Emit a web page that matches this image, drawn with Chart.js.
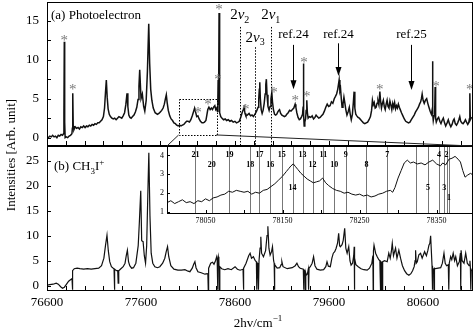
<!DOCTYPE html>
<html>
<head>
<meta charset="utf-8">
<script src="https://cdn.jsdelivr.net/npm/chart.js@4.4.1/dist/chart.umd.min.js"></script>
<style>
  html, body { margin: 0; padding: 0; background: #fff; }
  #wrap { position: relative; width: 474px; height: 334px; overflow: hidden; font-family: 'Liberation Serif', 'Times New Roman', serif; color: #000; }
  #wrap canvas { position: absolute; }
  #topChart { left: 0; top: 0; }
  #bottomChart { left: 0; top: 140px; }
  #insetChart { left: 147px; top: 145px; }
  #overlay { left: 0; top: 0; pointer-events: none; }
  .lbl { position: absolute; font-size: 13px; line-height: 13px; white-space: nowrap; }
  .lbl sub, .lbl sup { font-size: 9px; line-height: 0; }
  #ytitle { left: 10px; top: 155px; transform: translate(-50%, -50%) rotate(-90deg); }
  #xtitle { left: 258px; top: 322px; transform: translate(-50%, -50%); }
</style>
</head>
<body>
<div id="wrap">
  <canvas id="topChart" width="474" height="150"></canvas>
  <canvas id="bottomChart" width="474" height="180"></canvas>
  <canvas id="insetChart" width="327" height="85"></canvas>
  <canvas id="overlay" width="474" height="334"></canvas>
  <div class="lbl" style="left:51px; top:8px;">(a) Photoelectron</div>
  <div class="lbl" style="left:54px; top:159px;">(b) CH<sub>3</sub>I<sup>+</sup></div>
  <div class="lbl" id="ytitle">Intensities [Arb. unit]</div>
  <div class="lbl" id="xtitle">2hv/cm<sup>&minus;1</sup></div>
</div>
<script>
Chart.defaults.font.family = "'Liberation Serif', 'Times New Roman', serif";
Chart.defaults.color = '#000';

// shared x axis, 2hv in cm^-1
const xTicks = [76600, 76800, 77000, 77200, 77400, 77600, 77800, 78000, 78200, 78400, 78600, 78800,
  79000, 79200, 79400, 79600, 79800, 80000, 80200, 80400, 80600, 80800, 81000];
const xLabels = [76600, 77600, 78600, 79600, 80600];
const topYTicks = [0, 2.5, 5, 7.5, 10, 12.5, 15];
const topYLabels = [0, 5, 10, 15];
const bottomYTicks = [0, 5, 10, 15, 20, 25];

// (a) photoelectron spectrum
const topWn = [76600, 76615, 76630, 76645, 76660, 76675, 76690, 76705, 76720, 76735, 76750, 76765, 76775, 76780, 76784, 76788, 76793,
  76805, 76820, 76835, 76850, 76865, 76870, 76874, 76879, 76886, 76900, 76915, 76930, 76945, 76960, 76975, 76990, 77005, 77020,
  77035, 77050, 77065, 77080, 77095, 77110, 77125, 77140, 77155, 77170, 77185, 77200, 77212, 77222, 77231, 77240, 77250, 77262,
  77275, 77290, 77305, 77320, 77335, 77350, 77365, 77380, 77395, 77410, 77425, 77438, 77451, 77460, 77470, 77482, 77495, 77510,
  77525, 77540, 77555, 77568, 77578, 77586, 77600, 77614, 77628, 77640, 77655, 77668, 77682, 77692, 77703, 77715, 77730, 77750,
  77775, 77790, 77805, 77820, 77835, 77848, 77858, 77869, 77878, 77890, 77905, 77920, 77935, 77950, 77965, 77980, 77995, 78010,
  78025, 78040, 78055, 78070, 78085, 78100, 78115, 78130, 78145, 78160, 78170, 78180, 78192, 78205, 78218, 78232, 78248, 78262,
  78275, 78290, 78300, 78310, 78322, 78335, 78348, 78360, 78372, 78385, 78395, 78405, 78412, 78417, 78420, 78424, 78427, 78430,
  78434, 78438, 78448, 78462, 78478, 78495, 78510, 78528, 78545, 78562, 78580, 78598, 78615, 78632, 78645, 78660, 78675, 78688,
  78696, 78706, 78716, 78730, 78749, 78765, 78780, 78795, 78810, 78821, 78832, 78845, 78852, 78858, 78863, 78869, 78878, 78888,
  78898, 78910, 78920, 78927, 78933, 78940, 78950, 78962, 78972, 78982, 78991, 78998, 79008, 79020, 79032, 79043, 79055, 79065,
  79073, 79085, 79098, 79112, 79125, 79138, 79150, 79165, 79180, 79195, 79210, 79225, 79239, 79247, 79257, 79270, 79283, 79295,
  79308, 79318, 79324, 79327, 79331, 79335, 79342, 79350, 79356, 79363, 79369, 79377, 79390, 79405, 79420, 79435, 79450, 79462,
  79475, 79490, 79505, 79520, 79535, 79550, 79565, 79580, 79595, 79610, 79625, 79640, 79655, 79668, 79680, 79692, 79707, 79715,
  79722, 79730, 79738, 79748, 79758, 79766, 79778, 79790, 79802, 79815, 79825, 79836, 79848, 79858, 79866, 79874, 79884, 79895,
  79908, 79922, 79936, 79950, 79965, 79980, 79995, 80010, 80025, 80040, 80052, 80061, 80070, 80080, 80090, 80100, 80110, 80120,
  80130, 80140, 80147, 80157, 80167, 80177, 80187, 80197, 80207, 80217, 80227, 80237, 80247, 80257, 80267, 80277, 80287, 80297,
  80307, 80317, 80327, 80337, 80347, 80357, 80370, 80385, 80400, 80415, 80430, 80445, 80460, 80475, 80490, 80505, 80520, 80535,
  80550, 80562, 80574, 80582, 80590, 80600, 80612, 80625, 80638, 80650, 80662, 80675, 80688, 80695, 80700, 80704, 80708, 80716,
  80723, 80728, 80733, 80740, 80752, 80765, 80778, 80790, 80802, 80815, 80828, 80840, 80855, 80868, 80880, 80895, 80908, 80920,
  80930, 80942, 80955, 80968, 80980, 80990, 81000, 81012, 81025, 81038, 81050, 81062, 81075, 81085, 81092, 81097, 81102, 81110, 81120];
const topInt = [0.1, 0.0, 0.2, 0.1, 0.3, 0.1, 0.2, 0.0, 0.3, 0.2, 0.4, 0.3, 0.5, 3.0, 12.3, 2.0, 0.0,
  0.1, 0.0, 0.2, 0.3, 0.5, 1.2, 5.7, 1.5, 1.0, 1.4, 1.2, 1.3, 1.1, 1.4, 1.3, 1.5, 1.3, 1.5,
  1.4, 1.6, 1.5, 1.7, 1.6, 1.8, 1.7, 1.9, 1.9, 2.1, 2.3, 2.7, 3.8, 5.8, 7.4, 5.2, 3.7, 3.0,
  2.7, 2.5, 2.4, 2.5, 2.3, 2.5, 2.7, 2.6, 2.5, 2.8, 3.2, 4.2, 5.7, 4.0, 2.9, 2.6, 2.5, 2.7,
  2.9, 3.3, 3.9, 4.9, 6.6, 8.7, 5.0, 5.6, 4.0, 3.4, 4.8, 8.5, 14.6, 9.5, 6.2, 4.8, 3.8, 3.2,
  3.0, 3.1, 3.3, 3.5, 3.8, 4.3, 4.9, 5.5, 4.5, 3.5, 2.8, 2.4, 2.2, 1.9, 1.8, 1.6, 1.5, 1.6,
  1.5, 1.6, 1.7, 1.9, 2.1, 2.1, 2.0, 2.3, 2.8, 3.4, 3.8, 3.3, 2.7, 2.8, 2.4, 2.1, 1.9, 1.9,
  2.0, 2.2, 2.9, 3.6, 3.9, 3.6, 3.8, 3.6, 3.9, 4.1, 3.6, 3.8, 3.4, 5.0, 7.4, 4.2, 6.0, 16.0,
  6.0, 3.2, 2.7, 2.5, 2.3, 2.4, 2.2, 2.3, 2.1, 2.2, 2.0, 2.1, 1.9, 2.0, 2.1, 2.6, 3.2, 3.6,
  3.9, 3.1, 2.8, 2.9, 3.1, 2.8, 2.9, 2.7, 3.0, 3.2, 3.5, 3.9, 5.0, 6.2, 7.1, 5.0, 3.6, 3.1,
  3.5, 4.4, 5.6, 6.8, 7.5, 5.5, 4.0, 3.5, 4.0, 5.0, 5.8, 4.6, 3.6, 3.0, 2.9, 3.0, 3.3, 3.5,
  3.6, 3.1, 2.9, 2.8, 2.7, 2.8, 3.0, 3.2, 3.5, 3.4, 3.6, 3.8, 4.3, 3.9, 3.2, 2.6, 2.3, 2.4,
  2.7, 3.0, 4.0, 9.5, 3.0, 1.5, 2.0, 2.4, 3.5, 4.8, 3.2, 2.5, 2.7, 2.6, 2.8, 2.4, 2.6, 2.9,
  2.7, 2.5, 2.6, 2.8, 3.0, 3.4, 3.9, 4.3, 4.0, 4.1, 4.6, 4.4, 5.0, 5.3, 5.6, 6.2, 7.4, 6.0,
  6.3, 5.0, 3.9, 4.3, 5.2, 4.6, 3.6, 2.9, 3.3, 3.9, 3.0, 2.3, 3.0, 4.5, 5.9, 3.8, 3.0, 2.8,
  2.6, 2.5, 2.3, 2.1, 1.9, 1.8, 1.9, 2.0, 2.3, 2.7, 3.5, 4.8, 4.2, 4.5, 3.8, 3.9, 4.4, 4.7,
  4.2, 5.9, 4.8, 3.8, 4.4, 4.8, 4.0, 3.6, 4.3, 4.8, 4.0, 3.8, 4.7, 4.2, 3.6, 4.4, 3.9, 4.5,
  3.7, 4.1, 3.8, 4.3, 3.9, 3.6, 3.2, 2.8, 2.4, 2.1, 2.0, 1.9, 2.0, 2.3, 2.6, 2.9, 3.3, 3.6,
  3.9, 4.3, 4.6, 5.0, 5.6, 4.8, 4.4, 4.8, 5.0, 4.4, 3.9, 3.4, 3.0, 3.5, 9.8, 3.0, 2.2, 2.8,
  3.2, 6.5, 2.5, 2.0, 2.4, 2.6, 2.1, 1.8, 2.2, 2.5, 1.9, 1.5, 1.9, 2.3, 1.8, 1.4, 1.7, 2.2,
  2.4, 1.8, 1.6, 1.9, 2.3, 2.7, 2.1, 1.9, 1.8, 2.0, 2.3, 2.0, 1.7, 1.9, 2.4, 5.7, 2.3, 2.5, 2.6];

// (b) CH3I+ ion yield
const botWn = [76600, 76630, 76665, 76698, 76720, 76745, 76765, 76785, 76808, 76830, 76850, 76866, 76870, 76874, 76890, 76920,
  76950, 76990, 77030, 77070, 77110, 77150, 77180, 77205, 77222, 77238, 77252, 77267, 77285, 77305, 77313, 77317, 77321, 77340,
  77352, 77357, 77363, 77380, 77410, 77430, 77443, 77455, 77467, 77480, 77500, 77520, 77545, 77570, 77583, 77597, 77607, 77622,
  77635, 77648, 77660, 77672, 77683, 77695, 77708, 77725, 77747, 77775, 77800, 77830, 77853, 77868, 77882, 77895, 77917, 77950,
  77992, 78030, 78067, 78100, 78120, 78145, 78160, 78173, 78185, 78205, 78240, 78280, 78305, 78311, 78315, 78319, 78341, 78360,
  78376, 78392, 78405, 78410, 78414, 78418, 78422, 78428, 78433, 78438, 78458, 78490, 78525, 78560, 78600, 78625, 78653, 78685,
  78689, 78693, 78717, 78745, 78760, 78775, 78795, 78815, 78827, 78831, 78838, 78845, 78849, 78855, 78866, 78874, 78882, 78902,
  78925, 78940, 78949, 78960, 78973, 78988, 78998, 79010, 79016, 79019, 79023, 79048, 79075, 79090, 79098, 79110, 79155, 79208,
  79240, 79258, 79275, 79293, 79326, 79329, 79333, 79343, 79347, 79352, 79357, 79370, 79378, 79382, 79387, 79400, 79420, 79435,
  79450, 79471, 79507, 79542, 79565, 79578, 79592, 79613, 79630, 79645, 79660, 79675, 79690, 79702, 79712, 79720, 79738, 79750,
  79766, 79778, 79792, 79809, 79822, 79834, 79850, 79862, 79867, 79869, 79873, 79885, 79910, 79940, 79970, 80005, 80030, 80055,
  80066, 80069, 80072, 80078, 80095, 80112, 80129, 80140, 80147, 80152, 80160, 80165, 80170, 80190, 80218, 80235, 80250, 80262,
  80272, 80285, 80307, 80322, 80342, 80360, 80380, 80403, 80425, 80449, 80470, 80488, 80505, 80515, 80520, 80527, 80538, 80555,
  80573, 80590, 80616, 80635, 80650, 80662, 80672, 80680, 80690, 80695, 80698, 80702, 80712, 80716, 80721, 80733, 80760, 80787,
  80805, 80822, 80835, 80850, 80868, 80873, 80878, 80893, 80905, 80920, 80935, 80947, 80965, 80985, 80997, 81000, 81004, 81015,
  81035, 81053, 81070, 81089, 81098, 81103, 81107, 81112, 81120];
const botInt = [0.1, 0.2, 0.3, 0.5, 0.3, -0.2, -0.5, -0.3, 0.3, 0.9, 1.2, 1.4, -0.8, 3.0, 3.4, 3.5,
  3.4, 3.3, 3.4, 3.3, 3.4, 3.5, 4.0, 5.5, 8.0, 10.1, 7.0, 4.8, 3.8, 3.5, 3.4, -0.8, 3.3, 3.0,
  3.0, 0.5, 3.0, 3.3, 3.8, 4.5, 6.0, 7.1, 4.8, 4.0, 3.5, 3.6, 4.5, 8.0, 13.0, 19.0, 9.0, 8.8,
  6.0, 4.5, 8.0, 18.0, 26.6, 14.0, 6.5, 4.5, 3.8, 3.6, 3.8, 4.5, 5.5, 6.8, 7.8, 5.8, 4.0, 3.3,
  3.1, 3.1, 3.2, 2.9, 2.8, 3.5, 4.3, 4.8, 3.6, 2.8, 2.6, 2.3, 2.4, 2.3, -0.8, 3.5, 4.5, 4.7,
  4.3, 5.0, 5.8, 5.2, -0.8, 4.8, 5.8, 5.0, -0.8, 3.8, 3.4, 3.2, 3.4, 3.2, 3.8, 3.3, 3.1, 3.3,
  -0.8, 3.5, 4.5, 6.0, 6.5, 5.5, 5.8, 5.0, 4.8, -0.8, 4.5, 4.4, -0.8, 5.0, 7.5, 9.8, 6.5, 5.8,
  7.0, 10.0, 11.9, 7.5, 6.1, 6.8, 7.8, 5.0, 4.5, -0.8, 4.2, 3.5, 3.6, 4.2, 4.8, 3.8, 3.4, 3.6,
  4.0, 4.5, 3.8, 3.5, 3.3, -0.8, 3.2, 3.0, -0.8, 2.5, 2.1, 2.4, 3.2, -0.8, 3.5, 3.8, 4.5, 5.8,
  4.0, 3.3, 3.1, 3.2, 3.8, 4.8, 3.9, 3.8, 5.5, 6.5, 6.8, 7.5, 8.5, 10.5, 8.0, 7.8, 8.2, 9.0,
  11.5, 7.5, 6.5, 7.8, 5.0, 4.1, 4.5, 6.0, 7.8, -0.8, 5.5, 4.2, 3.8, 3.4, 3.2, 3.1, 3.5, 4.5,
  6.0, -0.8, 7.0, 8.1, 6.5, 5.8, 5.2, 5.0, -0.8, 4.8, 4.6, -0.8, 4.8, 5.0, 4.8, 6.5, 5.5, 6.8,
  8.5, 6.0, 7.5, 5.5, 7.1, 5.5, 4.0, 3.0, 2.4, 2.1, 2.4, 3.0, 3.8, 5.0, 7.1, 4.5, 4.8, 6.2,
  6.5, 5.5, 6.8, 6.0, 7.0, 8.1, 8.5, 10.0, 6.0, 4.0, -0.8, 3.5, 3.3, -0.8, 3.5, 3.4, 3.5, 3.6,
  4.5, 6.5, 4.5, 4.0, 4.2, -0.8, 4.5, 5.8, 5.2, 6.5, 5.0, 5.8, 4.0, 4.8, 6.5, -0.8, 7.1, 5.0,
  4.5, 6.5, 4.5, 4.0, 5.0, 3.5, -0.8, 3.0, 3.2];

// inset: enlarged 78000-78400 region of (a)
const insetWn = [78000, 78005, 78010, 78015, 78020, 78025, 78030, 78035, 78040, 78045, 78050, 78055, 78060, 78065, 78070,
  78075, 78080, 78085, 78090, 78095, 78100, 78105, 78110, 78115, 78120, 78125, 78130, 78135, 78140, 78145, 78150, 78155,
  78158, 78161, 78164, 78167, 78170, 78174, 78178, 78182, 78186, 78190, 78194, 78198, 78202, 78206, 78210, 78215, 78220,
  78225, 78230, 78235, 78240, 78245, 78250, 78255, 78260, 78265, 78270, 78275, 78280, 78285, 78290, 78293, 78296, 78300,
  78304, 78308, 78312, 78316, 78320, 78325, 78330, 78335, 78340, 78345, 78350, 78355, 78358, 78362, 78366, 78370, 78374,
  78378, 78381, 78384, 78387, 78390, 78394, 78398];
const insetInt = [1.5, 1.6, 1.45, 1.55, 1.65, 1.5, 1.55, 1.45, 1.6, 1.55, 1.7, 1.6, 1.75, 1.8, 1.9,
  1.95, 2.1, 2.05, 2.15, 2.1, 2.05, 2.1, 1.95, 2.05, 2.0, 2.15, 2.2, 2.35, 2.5, 2.7, 2.9, 3.15,
  3.3, 3.45, 3.55, 3.4, 3.25, 3.05, 2.9, 2.75, 2.65, 2.55, 2.6, 2.65, 2.8, 2.55, 2.4, 2.25, 2.15,
  2.1, 2.0, 2.05, 1.95, 1.9, 1.95, 1.85, 1.9, 1.8, 1.85, 1.95, 2.0, 2.1, 2.15, 2.05, 2.3, 2.8,
  3.2, 3.6, 3.75, 3.6, 3.65, 3.55, 3.6, 3.5, 3.65, 3.75, 3.55, 3.45, 3.6, 3.5, 3.8, 3.85, 3.95,
  3.8, 3.65, 3.2, 2.85, 2.95, 3.05, 2.95];
const insetXTicks = [78050, 78100, 78150, 78200, 78250, 78300, 78350];
const insetXLabels = [78050, 78150, 78250, 78350];
const insetYTicks = [1, 2, 3, 4];

// numbered assignment lines in the inset
const lineNames = ['21', '20', '19', '18', '17', '16', '15', '14', '13', '12', '11', '10', '9', '8', '7', '', '5', '4', '3', '2', '1'];
const lineWn = [78037, 78058, 78081, 78108, 78120, 78134, 78149, 78163, 78176, 78189, 78203, 78217, 78232, 78259, 78286,
  78323, 78339, 78353, 78360, 78363, 78366];
const lineNameY = [4.05, 3.5, 4.05, 3.5, 4.05, 3.5, 4.05, 2.28, 4.05, 3.5, 4.05, 3.5, 4.05, 3.5, 4.05, 4.05, 2.28, 4.05, 2.28, 4.05, 1.75];

// annotations on (a)
const starWn = [76784, 76873, 78207, 78313, 78430, 78419, 78714, 79015, 79239, 79334, 79363, 80140, 80736, 81097];
const starInt = [12.9, 6.5, 3.55, 4.6, 16.8, 7.9, 4.0, 6.2, 5.2, 10.0, 5.7, 6.5, 7.0, 6.5];
const modeSub = ['2', '3', '1'];
const modeWn = [78650, 78813, 78980];
const modeTop = [14.2, 11.6, 14.2];
const modeLabelY = [15.7, 12.8, 15.7];
const refNames = ['ref.24', 'ref.24', 'ref.25'];
const refWn = [79217, 79696, 80470];
const refFrom = [11.9, 12.1, 11.9];
const refTo = [6.2, 7.9, 6.1];
const refLabelY = [13.2, 13.2, 13.2];
const boxWn = [78000, 78400];
const boxInt = [0.35, 4.96];

const SERIF = "'Liberation Serif', 'Times New Roman', serif";
const pts = (xs, ys) => xs.map((x, i) => ({ x: x, y: ys[i] }));

// fixed axis sizes, and no extra room reserved for edge labels
const fixX = (h) => (s) => { s.height = h; s.paddingLeft = 0; s.paddingRight = 0; };
const fixY = (w) => (s) => { s.width = w; s.paddingTop = 0; s.paddingBottom = 0; };
const noGrid = { display: false, drawTicks: false };

// frame plus tick marks pointing into the plot
const innerTicks = {
  id: 'innerTicks',
  afterDraw(chart, args, opts) {
    const { ctx, chartArea: a, scales: { x, y } } = chart;
    ctx.save();
    ctx.strokeStyle = '#000';
    ctx.lineWidth = 1;
    ctx.beginPath();
    x.ticks.forEach((t) => {
      const px = Math.round(x.getPixelForValue(t.value)) + 0.5;
      ctx.moveTo(px, a.bottom);
      ctx.lineTo(px, a.bottom - opts.len);
    });
    y.ticks.forEach((t) => {
      const py = Math.round(y.getPixelForValue(t.value)) + 0.5;
      ctx.moveTo(a.left, py);
      ctx.lineTo(a.left + opts.len, py);
    });
    ctx.stroke();
    ctx.strokeRect(Math.round(a.left) + 0.5, Math.round(a.top) + 0.5, Math.round(a.width), Math.round(a.height));
    ctx.restore();
  },
};

const topNotes = {
  id: 'topNotes',
  afterDatasetsDraw(chart) {
    const { ctx, chartArea: a, scales: { x, y } } = chart;
    ctx.save();
    ctx.strokeStyle = '#000';
    ctx.fillStyle = '#000';
    ctx.lineWidth = 1;

    // dotted box of the enlarged region
    ctx.setLineDash([1.5, 1.5]);
    const bx0 = x.getPixelForValue(boxWn[0]), bx1 = x.getPixelForValue(boxWn[1]);
    const by0 = y.getPixelForValue(boxInt[1]), by1 = y.getPixelForValue(boxInt[0]);
    ctx.strokeRect(Math.round(bx0) + 0.5, Math.round(by0) + 0.5, Math.round(bx1 - bx0), Math.round(by1 - by0));

    // dotted lines for overtones
    modeWn.forEach((w, i) => {
      const px = Math.round(x.getPixelForValue(w)) + 0.5;
      ctx.beginPath();
      ctx.moveTo(px, y.getPixelForValue(modeTop[i]));
      ctx.lineTo(px, a.bottom);
      ctx.stroke();
    });
    ctx.setLineDash([]);

    ctx.textBaseline = 'middle';
    ctx.textAlign = 'left';
    modeWn.forEach((w, i) => {
      const px = x.getPixelForValue(w), py = y.getPixelForValue(modeLabelY[i]);
      ctx.font = '15px ' + SERIF;
      const w1 = ctx.measureText('2').width;
      ctx.font = 'italic 15px ' + SERIF;
      const w2 = ctx.measureText('ν').width;
      ctx.font = '10px ' + SERIF;
      const w3 = ctx.measureText(modeSub[i]).width;
      const left = px - (w1 + w2 + w3) / 2;
      ctx.font = '15px ' + SERIF;
      ctx.fillText('2', left, py);
      ctx.font = 'italic 15px ' + SERIF;
      ctx.fillText('ν', left + w1, py);
      ctx.font = '10px ' + SERIF;
      ctx.fillText(modeSub[i], left + w1 + w2, py + 5);
    });

    // reference arrows
    ctx.font = '13px ' + SERIF;
    ctx.textAlign = 'center';
    refWn.forEach((w, i) => {
      const px = Math.round(x.getPixelForValue(w)) + 0.5;
      const y0 = y.getPixelForValue(refFrom[i]), y1 = y.getPixelForValue(refTo[i]);
      ctx.fillText(refNames[i], px, y.getPixelForValue(refLabelY[i]));
      ctx.beginPath();
      ctx.moveTo(px, y0);
      ctx.lineTo(px, y1 - 6);
      ctx.stroke();
      ctx.beginPath();
      ctx.moveTo(px - 3, y1 - 9);
      ctx.lineTo(px + 3, y1 - 9);
      ctx.lineTo(px, y1);
      ctx.closePath();
      ctx.fill();
    });

    // asterisks
    ctx.fillStyle = '#7a7a7a';
    ctx.font = '15px ' + SERIF;
    ctx.textBaseline = 'alphabetic';
    starWn.forEach((w, i) => {
      ctx.fillText('*', x.getPixelForValue(w), y.getPixelForValue(starInt[i]) + 7.5);
    });
    ctx.restore();
  },
};

const insetNotes = {
  id: 'insetNotes',
  beforeDraw(chart) {
    const { ctx, chartArea: a } = chart;
    ctx.save();
    ctx.fillStyle = '#fff';
    ctx.fillRect(a.left, a.top, a.width, a.height);
    ctx.restore();
  },
  beforeDatasetsDraw(chart) {
    const { ctx, chartArea: a, scales: { x } } = chart;
    ctx.save();
    ctx.strokeStyle = '#777';
    ctx.lineWidth = 1;
    ctx.beginPath();
    lineWn.forEach((w) => {
      const px = Math.round(x.getPixelForValue(w)) + 0.5;
      ctx.moveTo(px, a.top);
      ctx.lineTo(px, a.bottom);
    });
    ctx.stroke();
    ctx.restore();
  },
  afterDatasetsDraw(chart) {
    const { ctx, scales: { x, y } } = chart;
    ctx.save();
    ctx.fillStyle = '#000';
    ctx.font = 'bold 8px ' + SERIF;
    ctx.textAlign = 'center';
    ctx.textBaseline = 'middle';
    lineWn.forEach((w, i) => {
      if (lineNames[i]) ctx.fillText(lineNames[i], x.getPixelForValue(w), y.getPixelForValue(lineNameY[i]));
    });
    ctx.restore();
  },
};

const topChart = new Chart(document.getElementById('topChart'), {
  type: 'line',
  data: {
    datasets: [{ data: pts(topWn, topInt), borderColor: '#111', borderWidth: 1.5, pointRadius: 0, tension: 0 }],
  },
  plugins: [innerTicks, topNotes],
  options: {
    responsive: false,
    animation: false,
    layout: { padding: { top: 2, right: 2, left: 0, bottom: 0 } },
    plugins: { legend: { display: false }, tooltip: { enabled: false }, innerTicks: { len: 4 } },
    scales: {
      x: {
        type: 'linear', min: 76600, max: 81120,
        grid: noGrid, border: { display: false },
        ticks: { display: false },
        afterBuildTicks: (s) => { s.ticks = xTicks.map((v) => ({ value: v })); },
        afterFit: fixX(5),
      },
      y: {
        min: -0.94, max: 17.4,
        grid: noGrid, border: { display: false },
        ticks: { font: { size: 13 }, padding: 8, callback: (v) => (topYLabels.includes(v) ? String(v) : '') },
        afterBuildTicks: (s) => { s.ticks = topYTicks.map((v) => ({ value: v })); },
        afterFit: fixY(47),
      },
    },
  },
});

new Chart(document.getElementById('bottomChart'), {
  type: 'line',
  data: {
    datasets: [{ data: pts(botWn, botInt), borderColor: '#111', borderWidth: 1.2, pointRadius: 0, tension: 0 }],
  },
  plugins: [innerTicks],
  options: {
    responsive: false,
    animation: false,
    layout: { padding: { top: 6, right: 2, left: 0, bottom: 0 } },
    plugins: { legend: { display: false }, tooltip: { enabled: false }, innerTicks: { len: 4 } },
    scales: {
      x: {
        type: 'linear', min: 76600, max: 81120,
        grid: noGrid, border: { display: false },
        ticks: { font: { size: 13 }, padding: 5, autoSkip: false, maxRotation: 0,
          callback: (v) => (xLabels.includes(v) ? String(v) : '') },
        afterBuildTicks: (s) => { s.ticks = xTicks.map((v) => ({ value: v })); },
        afterFit: fixX(30),
      },
      y: {
        min: -0.86, max: 27.94,
        grid: noGrid, border: { display: false },
        ticks: { font: { size: 13 }, padding: 8 },
        afterBuildTicks: (s) => { s.ticks = bottomYTicks.map((v) => ({ value: v })); },
        afterFit: fixY(47),
      },
    },
  },
});

const insetChart = new Chart(document.getElementById('insetChart'), {
  type: 'line',
  data: {
    datasets: [{ data: pts(insetWn, insetInt), borderColor: '#111', borderWidth: 1, pointRadius: 0, tension: 0 }],
  },
  plugins: [insetNotes, innerTicks],
  options: {
    responsive: false,
    animation: false,
    layout: { padding: { top: 1, right: 2, left: 0, bottom: 0 } },
    plugins: { legend: { display: false }, tooltip: { enabled: false }, innerTicks: { len: 3 } },
    scales: {
      x: {
        type: 'linear', min: 78000, max: 78396,
        grid: noGrid, border: { display: false },
        ticks: { font: { size: 8 }, padding: 3, autoSkip: false, maxRotation: 0,
          callback: (v) => (insetXLabels.includes(v) ? String(v) : '') },
        afterBuildTicks: (s) => { s.ticks = insetXTicks.map((v) => ({ value: v })); },
        afterFit: fixX(17),
      },
      y: {
        min: 0.95, max: 4.5,
        grid: noGrid, border: { display: false },
        ticks: { font: { size: 8 }, padding: 3 },
        afterBuildTicks: (s) => { s.ticks = insetYTicks.map((v) => ({ value: v })); },
        afterFit: fixY(20),
      },
    },
  },
});

// lines joining the dotted box in (a) to the inset
const ov = document.getElementById('overlay').getContext('2d');
const tx = topChart.scales.x, ty = topChart.scales.y;
const ia = insetChart.chartArea;
const insetLeft = 147, insetTop = 145;
ov.strokeStyle = '#222';
ov.lineWidth = 1;
ov.beginPath();
ov.moveTo(tx.getPixelForValue(boxWn[0]), ty.getPixelForValue(boxInt[0]));
ov.lineTo(insetLeft + ia.left, insetTop + ia.top);
ov.moveTo(tx.getPixelForValue(boxWn[1]), ty.getPixelForValue(boxInt[0]));
ov.lineTo(insetLeft + ia.right, insetTop + ia.top);
ov.stroke();
</script>
</body>
</html>
